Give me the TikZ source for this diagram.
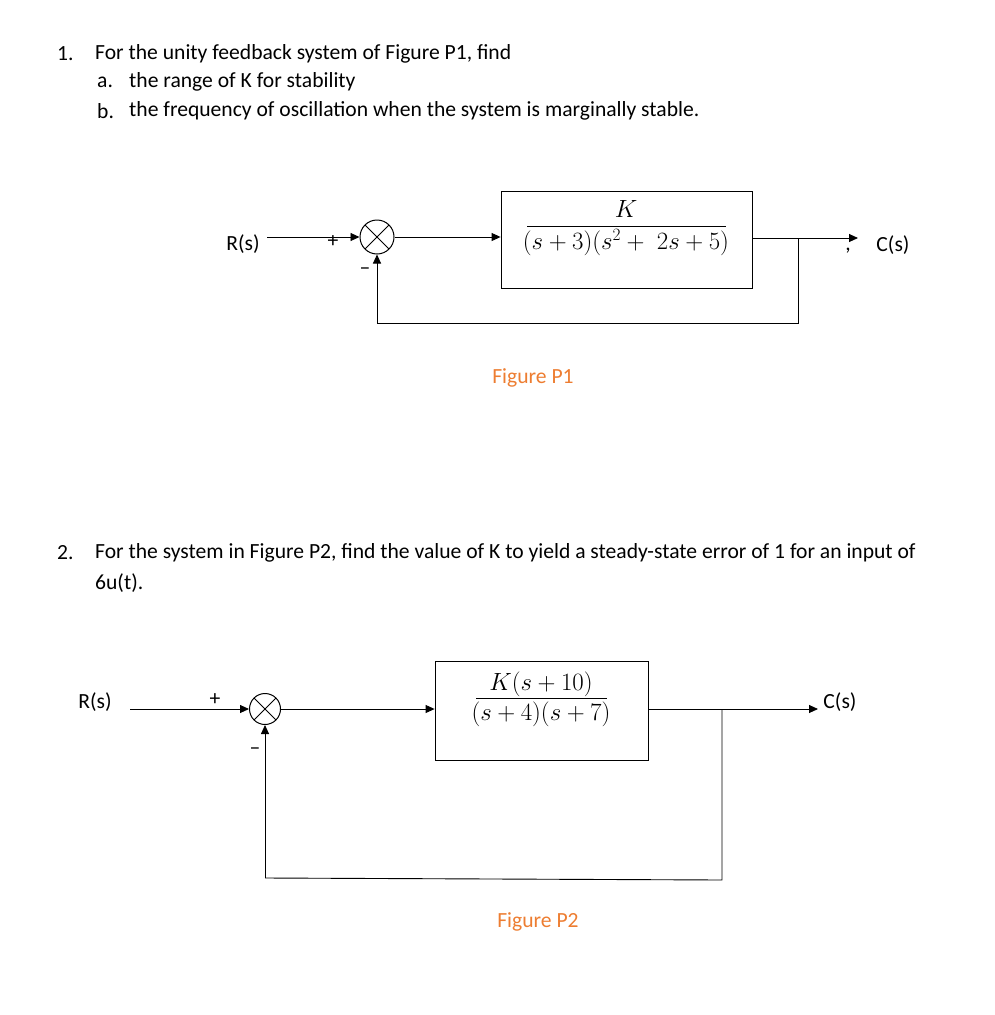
\documentclass[tikz,border=0pt]{standalone}
\usepackage{fontspec}
\usepackage{amsmath}
\setmainfont{Carlito}
\usetikzlibrary{arrows.meta}
\definecolor{fig}{RGB}{237,125,49}
\begin{document}
\begin{tikzpicture}[x=1pt,y=-1pt,
  txt/.style={anchor=west,inner sep=0pt,font=\fontsize{21.6}{24}\selectfont},
  lbl/.style={inner sep=0pt,font=\fontsize{21.6}{24}\selectfont},
  sig/.style={line width=0.9pt,-{Triangle[length=9pt,width=8pt]}},
  ln/.style={line width=0.9pt},
  sum/.style={circle,draw,line width=1pt,minimum size=#1,inner sep=0pt,path picture={\draw[line width=1pt] (path picture bounding box.north west)--(path picture bounding box.south east) (path picture bounding box.north east)--(path picture bounding box.south west);}},
  blk/.style={draw,line width=0.8pt,minimum width=#1,inner sep=0pt},
  math/.style={inner sep=0pt,font=\fontsize{25}{28}\selectfont}]
\useasboundingbox (0,0) rectangle (995,1015);
\node[txt] (n1) at (57,54) {1.};
\node[txt] (q1) at (95,54) {For the unity feedback system of Figure P1, find};
\node[txt] (a) at (97,82) {a.};
\node[txt] (qa) at (129,82) {the range of K for stability};
\node[txt] (b) at (97,111) {b.};
\node[txt] (qb) at (129,111) {the frequency of oscillation when the system is marginally stable.};
% Figure P1
\node[lbl] (R1) at (243,244) {R(s)};
\coordinate (r1) at (267,237);
\node[sum=34pt] (S1) at (377,237) {};
\node[blk=251pt,minimum height=97pt] (G1) at (626.5,239.5) {};
\node[math] (K1) at (626,209) {$K$};
\draw[line width=1pt] (527,226) -- (726,226);
\node[math] (D1) at (626,243) {$(s+3)(s^2+\;2s+5)$};
\coordinate (o1) at (858,238);
\coordinate (b1) at (798,238);
\coordinate (f1) at (798,323);
\coordinate (g1) at (377,323);
\node[lbl] (C1) at (893,245) {C(s)};
\node[lbl] (cm) at (848,251) {,};
\node[lbl] (p1) at (333,242) {+};
\node[lbl] (m1) at (365,271) {--};
\draw[sig] (r1) -- (S1.west);
\draw[sig] (S1.east) -- (G1.west|-S1);
\draw[sig] (G1.east|-o1) -- (o1);
\draw[ln] (b1) -- (f1) -- (g1);
\draw[sig] (g1) -- (S1.south);
\node[lbl,text=fig] (F1) at (533,378) {Figure P1};
% Question 2
\node[txt] (n2) at (57,553) {2.};
\node[txt] (q2) at (95,553) {For the system in Figure P2, find the value of K to yield a steady-state error of 1 for an input of};
\node[txt] (q2b) at (95,583) {6u(t).};
% Figure P2
\node[lbl] (R2) at (95,702) {R(s)};
\coordinate (r2) at (130,709);
\node[sum=31pt] (S2) at (265,709) {};
\node[blk=213pt,minimum height=99pt] (G2) at (541.5,710.5) {};
\node[math] (K2) at (541,684) {$K(s+10)$};
\draw[line width=1pt] (476,698) -- (607,698);
\node[math] (D2) at (541,714) {$(s+4)(s+7)$};
\coordinate (o2) at (818,709);
\coordinate (b2) at (722,709);
\coordinate (f2) at (722,880);
\coordinate (g2) at (265,878);
\node[lbl] (C2) at (840,702) {C(s)};
\node[lbl] (p2) at (215,700) {+};
\node[lbl] (m2) at (255,751) {--};
\draw[sig] (r2) -- (S2.west);
\draw[sig] (S2.east) -- (G2.west|-S2);
\draw[sig] (G2.east|-o2) -- (o2);
\draw[ln] (b2) -- (f2) -- (g2);
\draw[sig] (g2) -- (S2.south);
\node[lbl,text=fig] (F2) at (538,922) {Figure P2};
\end{tikzpicture}
\end{document}
